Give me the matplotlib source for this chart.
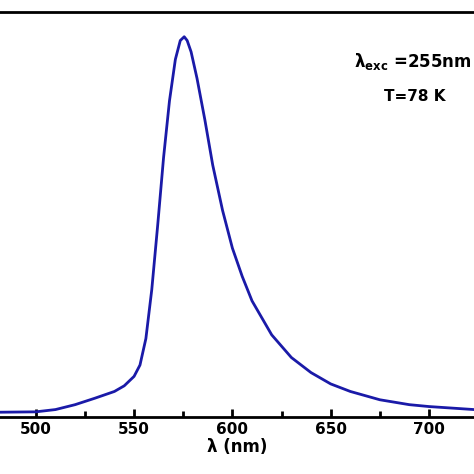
import matplotlib.pyplot as plt
import numpy as np

wavelength = [482, 500, 510, 520, 530, 540, 545, 550, 553, 556, 559, 562, 565, 568, 571, 573.5,
              575.5, 577, 579, 582, 586, 590, 595, 600, 605, 610, 620, 630, 640, 650, 660,
              675, 690, 700, 723]
intensity = [0.005, 0.006, 0.012, 0.025, 0.042, 0.06, 0.075, 0.10, 0.13, 0.2, 0.33, 0.5, 0.68,
             0.83, 0.94, 0.99, 1.0, 0.99, 0.96, 0.89, 0.78, 0.66, 0.54, 0.44, 0.365, 0.30, 0.21,
             0.15, 0.11, 0.08, 0.06, 0.038, 0.025, 0.02, 0.012]

fig = plt.figure(figsize=(4.74, 4.74), dpi=100)
ax = fig.add_axes([0, 0.12, 1, 0.855])
ax.plot(wavelength, intensity, color='#1a1aa8', lw=2)
ax.set_xlim(481.8, 722.9)
ax.set_ylim(-0.008, 1.066)
ax.set_xticks([500, 550, 600, 650, 700])
ax.set_xticks(np.arange(525, 725, 50), minor=True)
ax.tick_params(axis='x', direction='in', length=6, width=2, labelsize=11)
ax.tick_params(axis='x', which='minor', direction='in', length=4, width=2)
for lab in ax.get_xticklabels():
    lab.set_fontweight('bold')
ax.set_yticks([])
ax.spines['left'].set_visible(False)
ax.spines['right'].set_visible(False)
ax.spines['bottom'].set_linewidth(2)
ax.spines['top'].set_linewidth(2)
ax.set_xlabel('λ (nm)', fontsize=12, fontweight='bold', labelpad=1)
ax.text(662, 0.92, r'$\mathbf{\lambda_{exc}}$ =255nm', fontsize=12, fontweight='bold')
ax.text(677, 0.83, 'T=78 K', fontsize=11, fontweight='bold')
fig.savefig('out.png')
